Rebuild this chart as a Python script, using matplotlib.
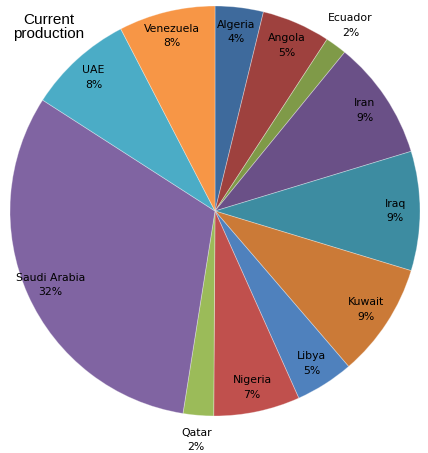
import numpy as np
import matplotlib
matplotlib.use("Agg")
import matplotlib.pyplot as plt

countries = ["Algeria", "Angola", "Ecuador", "Iran", "Iraq", "Kuwait", "Libya",
             "Nigeria", "Qatar", "Saudi Arabia", "UAE", "Venezuela"]
shares = [3.8, 5.4, 1.7, 9.4, 9.4, 9.0, 4.6, 6.8, 2.4, 31.6, 8.3, 7.6]
colors = ["#3E6A9C", "#9E413E", "#7F9A48", "#6A5087", "#3D8CA1", "#CB7A37",
          "#4F81BD", "#C0504D", "#9BBB59", "#8064A2", "#4BACC6", "#F79646"]
outside = ["Ecuador", "Qatar"]
title = "Current\nproduction"

W, H = 428, 453
fig = plt.figure(figsize=(W / 100, H / 100), dpi=100)
cx, cy, R = 215, 211, 205
ax = fig.add_axes([(cx - R) / W, (H - cy - R) / H, 2 * R / W, 2 * R / H])
wedges, _ = ax.pie(shares, colors=colors, startangle=90, counterclock=False,
                   wedgeprops=dict(edgecolor=(1, 1, 1, 0.35), linewidth=0.6))
ax.set_xlim(-1, 1)
ax.set_ylim(-1, 1)
ax.set_aspect("equal")
ax.axis("off")

total = sum(shares)
for w, name, v in zip(wedges, countries, shares):
    ang = np.deg2rad((w.theta1 + w.theta2) / 2)
    r = 1.12 if name in outside else 0.88
    ax.text(r * np.cos(ang), r * np.sin(ang), f"{name}\n{v / total * 100:.0f}%",
            ha="center", va="center", fontsize=7.8, family="DejaVu Sans",
            linespacing=1.55, color="black")

fig.text(49 / W, 1 - 27 / H, title, ha="center", va="center", fontsize=11,
         family="Liberation Sans", linespacing=1.05, color="black")

fig.savefig("out.png", dpi=100)
